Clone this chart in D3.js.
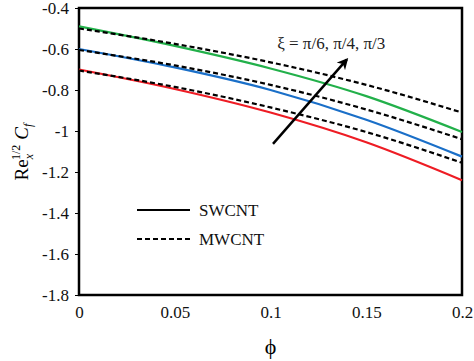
<!DOCTYPE html>
<html><head><meta charset="utf-8">
<script src="https://cdn.jsdelivr.net/npm/d3@7"></script>
<style>body{margin:0;background:#fff}svg{display:block}</style>
</head><body><svg id="c" width="474" height="361" font-family="'Liberation Serif', 'Times New Roman', serif"></svg>
<script>
const phi = [0, 0.05, 0.1, 0.15, 0.2];
const swRed   = [-0.70, -0.795, -0.91, -1.055, -1.24];
const swBlue  = [-0.60, -0.69, -0.80, -0.945, -1.125];
const swGreen = [-0.49, -0.585, -0.695, -0.83, -1.005];
const mwLow   = [-0.705, -0.785, -0.885, -1.005, -1.155];
const mwMid   = [-0.605, -0.68, -0.775, -0.895, -1.04];
const mwHigh  = [-0.50, -0.575, -0.665, -0.775, -0.91];
const xTicks = [0, 0.05, 0.1, 0.15, 0.2];
const xTickLabels = ["0", "0.05", "0.1", "0.15", "0.2"];
const yTicks = [-0.4, -0.6, -0.8, -1, -1.2, -1.4, -1.6, -1.8];
const yTickLabels = ["-0.4", "-0.6", "-0.8", "-1", "-1.2", "-1.4", "-1.6", "-1.8"];
const legendLabels = ["SWCNT", "MWCNT"];
const annotation = "ξ = π/6, π/4, π/3";

const FF = "'Liberation Serif', 'Times New Roman', serif";
const svg = d3.select("#c");
const L = 79, R = 462, T = 8, B = 295;
const x = d3.scaleLinear().domain([0, 0.2]).range([L, R]);
const y = d3.scaleLinear().domain([-1.8, -0.4]).range([B, T]);

// axes
const ya = svg.append("g").attr("transform", `translate(${L},0)`)
  .call(d3.axisLeft(y).tickValues(yTicks).tickFormat((d, i) => yTickLabels[i]).tickSize(4).tickPadding(6));
ya.attr("font-family", FF).attr("font-size", 17);
ya.select(".domain").remove();
ya.selectAll("line").attr("stroke", "#000");
ya.selectAll("text").attr("fill", "#111");

const xa = svg.append("g").attr("transform", `translate(0,${B})`)
  .call(d3.axisBottom(x).tickValues(xTicks).tickFormat((d, i) => xTickLabels[i]).tickSize(0).tickPadding(11));
xa.attr("font-family", FF).attr("font-size", 17);
xa.select(".domain").remove();
xa.selectAll("text").attr("fill", "#111");

// frame
svg.append("rect").attr("x", L).attr("y", T).attr("width", R - L).attr("height", B - T)
  .attr("fill", "none").attr("stroke", "#000").attr("stroke-width", 2.5);

const line = d3.line().x((d, i) => x(phi[i])).y(d => y(d)).curve(d3.curveMonotoneX);
const series = [
  {v: swRed, c: "#ee1c24", dash: null},
  {v: swBlue, c: "#1a6fc8", dash: null},
  {v: swGreen, c: "#22b04a", dash: null},
  {v: mwLow, c: "#000", dash: "5,3"},
  {v: mwMid, c: "#000", dash: "5,3"},
  {v: mwHigh, c: "#000", dash: "5,3"}
];
series.forEach(s => {
  svg.append("path").attr("d", line(s.v)).attr("fill", "none").attr("stroke", s.c)
    .attr("stroke-width", 2.2).attr("stroke-dasharray", s.dash);
});

// arrow
svg.append("defs").append("marker").attr("id", "ah").attr("viewBox", "0 0 10 10")
  .attr("refX", 8).attr("refY", 5).attr("markerWidth", 4.5).attr("markerHeight", 4.5)
  .attr("orient", "auto").append("path").attr("d", "M0,0 L10,5 L0,10 L3,5 Z").attr("fill", "#000");
svg.append("line").attr("x1", x(0.1013)).attr("y1", y(-1.063)).attr("x2", x(0.1398)).attr("y2", y(-0.652))
  .attr("stroke", "#000").attr("stroke-width", 2.5).attr("marker-end", "url(#ah)");
svg.append("text").attr("x", x(0.1035)).attr("y", y(-0.6)).text(annotation)
  .attr("font-size", 17).attr("fill", "#222");

// legend
const legY = [210, 239];
legY.forEach((ly, i) => {
  svg.append("line").attr("x1", 137).attr("x2", 190).attr("y1", ly).attr("y2", ly)
    .attr("stroke", "#000").attr("stroke-width", 2.2).attr("stroke-dasharray", i ? "5,3" : null);
  svg.append("text").attr("x", 199).attr("y", ly + 6).text(legendLabels[i]).attr("font-size", 17).attr("fill", "#111");
});

// axis titles
svg.append("text").attr("x", x(0.1)).attr("y", 354).attr("text-anchor", "middle")
  .attr("font-size", 22).text("ϕ");
const yt = svg.append("text").attr("transform", "translate(28,152) rotate(-90)").attr("text-anchor", "middle")
  .attr("font-size", 19);
yt.append("tspan").text("Re");
yt.append("tspan").attr("dy", 5).attr("font-size", 12).attr("font-style", "italic").text("x");
yt.append("tspan").attr("dy", -13).attr("dx", -6).attr("font-size", 12).text("1/2");
yt.append("tspan").attr("dy", 8).attr("dx", 5).attr("font-style", "italic").text("C");
yt.append("tspan").attr("dy", 4).attr("font-size", 12).attr("font-style", "italic").text("f");
</script></body></html>
